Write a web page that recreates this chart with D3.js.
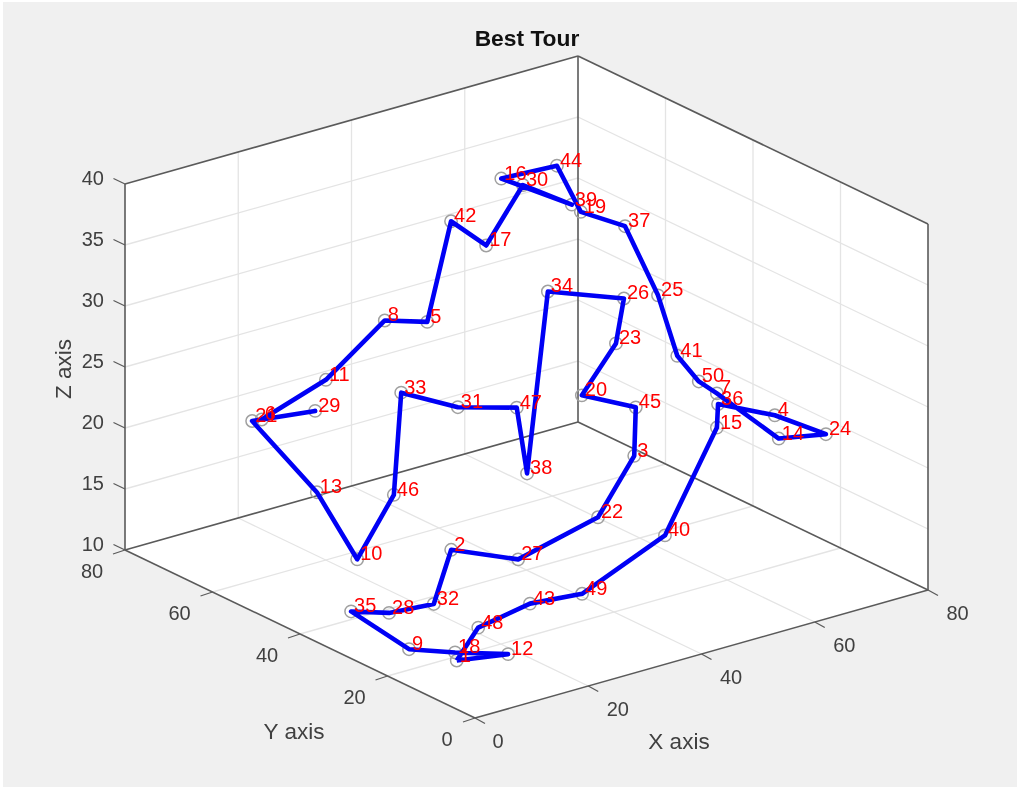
<!DOCTYPE html>
<html><head><meta charset="utf-8">
<script src="https://cdn.jsdelivr.net/npm/d3@7/dist/d3.min.js"></script>
<style>html,body{margin:0;padding:0;background:#fff}svg{display:block;filter:blur(0.4px)}text{font-family:"Liberation Sans",Arial,sans-serif}</style>
</head><body><svg id="c" width="1020" height="790"></svg>
<script>
const chartTitle = "Best Tour";
const xLabel = "X axis", yLabel = "Y axis", zLabel = "Z axis";
const xTicks = [0,20,40,60,80];
const yTicks = [0,20,40,60,80];
const zTicks = [10,15,20,25,30,35,40];
const cityId = d3.range(1,51);
const cityX = [4.5,26.7,51.3,68.4,30.2,8.7,65.9,22.7,3.8,10.1,12.3,9.7,10.7,69.1,65.9,51.0,40.6,4.2,49.6,57.5,7.0,44.9,55.8,69.7,55.5,57.2,30.8,8.0,10.4,47.1,35.6,15.9,25.6,51.5,1.3,66.1,57.4,40.1,48.0,49.0,58.9,34.4,21.3,53.1,59.3,24.3,46.0,8.3,30.5,62.7];
const cityY = [10,40,30,20,50,60,30,50,20,40,50,5,50,20,30,60,50,10,40,50,60,30,40,10,30,40,30,30,50,50,50,30,50,50,30,30,40,40,40,20,30,50,15,50,40,50,50,10,15,30];
const cityZ = [12.4,13.4,19.6,22.4,29.9,23.0,22.8,31.0,11.7,14.8,27.5,13.1,18.5,20.4,20.0,37.2,34.8,13.1,38.1,20.3,23.1,15.4,26.5,22.4,32.2,30.0,13.8,12.4,25.2,38.9,22.2,12.1,24.7,29.6,13.4,21.9,35.9,17.9,38.9,15.1,26.8,37.6,14.0,39.7,20.8,16.5,20.8,14.6,13.6,24.2];
const tour = [1,12,18,9,35,28,32,2,27,22,3,45,20,23,26,34,38,47,31,33,46,10,13,21,29,6,11,8,5,42,17,30,39,16,44,19,37,25,41,50,7,14,24,4,36,15,40,49,43,48,1];

const O = {x:475,y:718};
const xpx = d3.scaleLinear().domain([0,80]).range([0,453]);
const xpy = d3.scaleLinear().domain([0,80]).range([0,-128]);
const ypx = d3.scaleLinear().domain([0,80]).range([0,-350]);
const ypy = d3.scaleLinear().domain([0,80]).range([0,-168]);
const zpy = d3.scaleLinear().domain([10,40]).range([0,-366]);
const P = (x,y,z)=>[O.x+xpx(x)+ypx(y), O.y+xpy(x)+ypy(y)+zpy(z)];

const svg = d3.select("#c");
const bgC="#f0f0f0", gridC="#e4e4e4", axisC="#5a5a5a", txtC="#404040";
svg.append("rect").attr("x",3).attr("y",2).attr("width",1014).attr("height",785).attr("fill",bgC);
const hull=[P(0,0,10),P(80,0,10),P(80,0,40),P(80,80,40),P(0,80,40),P(0,80,10)];
svg.append("polygon").attr("points",hull.map(p=>p.join(",")).join(" ")).attr("fill","#fff");

const seg=(g,a,b,c,w)=>g.append("line").attr("x1",a[0]).attr("y1",a[1]).attr("x2",b[0]).attr("y2",b[1]).attr("stroke",c).attr("stroke-width",w);
const grid=svg.append("g");
xTicks.slice(1,-1).forEach(t=>{seg(grid,P(t,0,10),P(t,80,10),gridC,1.3);seg(grid,P(t,80,10),P(t,80,40),gridC,1.3);});
yTicks.slice(1,-1).forEach(t=>{seg(grid,P(0,t,10),P(80,t,10),gridC,1.3);seg(grid,P(80,t,10),P(80,t,40),gridC,1.3);});
zTicks.slice(1,-1).forEach(t=>{seg(grid,P(0,80,t),P(80,80,t),gridC,1.3);seg(grid,P(80,80,t),P(80,0,t),gridC,1.3);});

const ax=svg.append("g");
[[P(0,0,10),P(80,0,10)],[P(0,0,10),P(0,80,10)],[P(0,80,10),P(0,80,40)],[P(0,80,40),P(80,80,40)],[P(80,80,40),P(80,0,40)],[P(80,0,40),P(80,0,10)],[P(80,80,10),P(80,80,40)],[P(80,80,10),P(0,80,10)],[P(80,80,10),P(80,0,10)]]
 .forEach(s=>seg(ax,s[0],s[1],axisC,1.6));
const txt=(p,s,size,col,w)=>svg.append("text").attr("x",p[0]).attr("y",p[1]).attr("text-anchor","middle").attr("dominant-baseline","central").attr("font-size",size).attr("fill",col).attr("font-weight",w||"normal").text(s);
xTicks.forEach(t=>{const p=P(t,0,10);seg(ax,p,[p[0]+10,p[1]+5.5],axisC,1.3);
  txt([p[0]+(t===0?23:29.5),p[1]+23],t,20,txtC);});
yTicks.forEach(t=>{const p=P(0,t,10);seg(ax,p,[p[0]-12,p[1]+4],axisC,1.3);
  txt([p[0]-(t===0?28:33),p[1]+21],t,20,txtC);});
zTicks.forEach(t=>{const p=P(0,80,t);seg(ax,p,[p[0]-11.5,p[1]-5.5],axisC,1.3);
  svg.append("text").attr("x",p[0]-21).attr("y",p[1]-6.5).attr("text-anchor","end").attr("dominant-baseline","central").attr("font-size",20).attr("fill",txtC).text(t);});

txt([527,38],chartTitle,22.8,"#111","bold");
txt([679,741],xLabel,22.5,txtC);
txt([294,731],yLabel,22.5,txtC);
svg.append("text").attr("transform","translate(63,369) rotate(-90)").attr("text-anchor","middle").attr("dominant-baseline","central").attr("font-size",22.5).attr("fill",txtC).text(zLabel);

const cities=cityId.map((id,i)=>({id,p:P(cityX[i],cityY[i],cityZ[i])}));
svg.append("g").selectAll("circle").data(cities).join("circle")
  .attr("cx",d=>d.p[0]).attr("cy",d=>d.p[1]).attr("r",6.2).attr("fill","none").attr("stroke","#a0a0a0").attr("stroke-width",1.5);
svg.append("path").attr("fill","none").attr("stroke","#0000f5").attr("stroke-width",4.6).attr("stroke-linejoin","round")
  .attr("d",d3.line()(tour.map(n=>cities[n-1].p)));
svg.append("g").selectAll("text").data(cities).join("text")
  .attr("x",d=>d.p[0]+3).attr("y",d=>d.p[1]-6).attr("dominant-baseline","central")
  .attr("font-size",20).attr("fill","#ff0000").text(d=>d.id);
</script></body></html>
